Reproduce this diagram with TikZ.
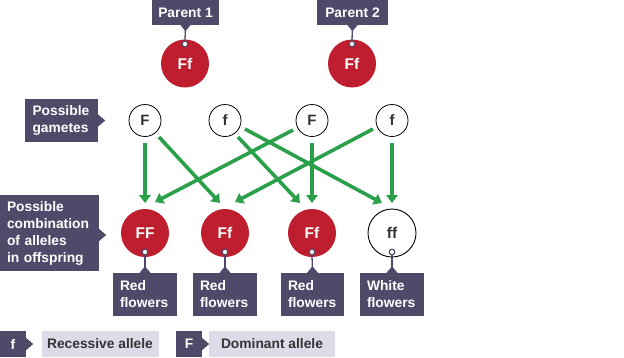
\documentclass[tikz,border=0pt]{standalone}
\usepackage{fontspec}
\setmainfont{Liberation Sans}
\usetikzlibrary{arrows.meta,calc}
\definecolor{slate}{HTML}{4E4B6A}
\definecolor{bred}{HTML}{BE1E2D}
\definecolor{bgreen}{HTML}{2BA04A}
\definecolor{lilac}{HTML}{DCDCE8}
\definecolor{ink}{HTML}{333333}
\tikzset{
  lbl/.style={fill=slate, text=white, font=\bfseries\fontsize{13.8}{17}\selectfont, inner sep=0pt, align=left},
  keyl/.style={fill=lilac, text=ink, font=\bfseries\fontsize{13.8}{17}\selectfont, inner sep=0pt, minimum height=26pt},
  redc/.style={circle, fill=bred, text=white, font=\bfseries\fontsize{15.5}{18}\selectfont, minimum size=48pt, inner sep=0pt},
  whitec/.style={circle, draw=black, line width=0.9pt, fill=white, text=ink, font=\bfseries\fontsize{15.5}{18}\selectfont, minimum size=48pt, inner sep=0pt},
  gam/.style={circle, draw=black, line width=0.8pt, fill=white, text=ink, font=\bfseries\fontsize{15}{18}\selectfont, minimum size=32pt, inner sep=0pt},
  pin/.style={circle, draw=slate, line width=1pt, fill=white, minimum size=5.5pt, inner sep=0pt},
  pinline/.style={draw=slate, line width=1.3pt},
  arr/.style={draw=bgreen, line width=3.6pt, -{Triangle[length=8pt,width=11.5pt]}}
}
\begin{document}
\begin{tikzpicture}[x=1pt,y=-1pt]
\useasboundingbox (0,0) rectangle (624,357);

% parents
\node[lbl, minimum width=67pt, minimum height=25pt] (lp1) at (185.5,12.5) {Parent 1};
\node[lbl, minimum width=71pt, minimum height=25pt] (lp2) at (352.5,12.5) {Parent 2};
\node[redc] (par1) at (185,63.5) {Ff};
\node[redc] (par2) at (352,63.5) {Ff};
\node[pin] (d1) at ($(par1)+(0,-19.5)$) {};
\node[pin] (d2) at ($(par2)+(0,-19.5)$) {};
\foreach \b/\d in {lp1/d1, lp2/d2}{
  \fill[slate] ($(\b.south)+(-5,0)$) -- ($(\b.south)+(0,6)$) -- ($(\b.south)+(5,0)$) -- cycle;
  \draw[pinline] (\b.south) -- (\d.north);
}
\node[pin] at (d1) {};
\node[pin] at (d2) {};

% gametes
\node[lbl, minimum width=73pt, minimum height=43pt, text width=58pt, inner xsep=7.5pt] (lg) at (61.5,120.5) {Possible\\gametes};
\fill[slate] ($(lg.east)+(0,-6)$) -- ($(lg.east)+(7,0)$) -- ($(lg.east)+(0,6)$) -- cycle;
\node[gam] (g1) at (145,120.5) {F};
\node[gam] (g2) at (225,120.5) {f};
\node[gam] (g3) at (312,120.5) {F};
\node[gam] (g4) at (392,120.5) {f};

% offspring
\node[lbl, minimum width=99pt, minimum height=76pt, text width=85pt, inner xsep=7pt] (lc) at (49.5,233) {Possible\\combination\\of alleles\\in offspring};
\fill[slate] ($(lc.east)+(0,-4)$) -- ($(lc.east)+(7,2)$) -- ($(lc.east)+(0,8)$) -- cycle;
\node[redc] (o1) at (145,233) {FF};
\node[redc] (o2) at (225,233) {Ff};
\node[redc] (o3) at (312,233) {Ff};
\node[whitec] (o4) at (392,233) {ff};

% arrows
\draw[arr] ($(g1)+(0,22.5)$) -- ($(o1)+(0,-30)$);
\draw[arr] ($(g1)+(14,16.5)$) -- ($(o2)+(-5,-30)$);
\draw[arr] ($(g2)+(13,16.5)$) -- ($(o3)+(-12,-30)$);
\draw[arr] ($(g2)+(20,8.5)$) -- ($(o4)+(-10,-30)$);
\draw[arr] ($(g3)+(-19,9.5)$) -- ($(o1)+(10,-31)$);
\draw[arr] ($(g3)+(0,22.5)$) -- ($(o3)+(0,-30)$);
\draw[arr] ($(g4)+(-19,8.5)$) -- ($(o2)+(10,-31)$);
\draw[arr] ($(g4)+(0,22.5)$) -- ($(o4)+(0,-30)$);

% flower labels
\node[lbl, minimum width=64pt, minimum height=43pt, text width=50pt, inner xsep=7pt] (f1) at (145,294.5) {Red\\flowers};
\node[lbl, minimum width=64pt, minimum height=43pt, text width=50pt, inner xsep=7pt] (f2) at (225,294.5) {Red\\flowers};
\node[lbl, minimum width=63pt, minimum height=43pt, text width=49pt, inner xsep=7pt] (f3) at (312.5,294.5) {Red\\flowers};
\node[lbl, minimum width=64pt, minimum height=43pt, text width=50pt, inner xsep=7pt] (f4) at (392,294.5) {White\\flowers};
\foreach \o/\f in {o1/f1, o2/f2, o3/f3, o4/f4}{
  \node[pin] (p\o) at ($(\o)+(0,19)$) {};
  \fill[slate] ($(\f.north)+(-5.5,0)$) -- ($(\f.north)+(0,-6.5)$) -- ($(\f.north)+(5.5,0)$) -- cycle;
  \draw[pinline] (\f.north) -- (p\o.south);
  \node[pin] at (p\o) {};
}

% legend
\node[lbl, minimum width=26pt, minimum height=26pt, align=center] (kf) at (13,344) {f};
\fill[slate] ($(kf.east)+(0,-6)$) -- ($(kf.east)+(7,0)$) -- ($(kf.east)+(0,6)$) -- cycle;
\node[keyl, minimum width=117pt] (kr) at (100,344) {Recessive allele};
\node[lbl, minimum width=26pt, minimum height=26pt, align=center] (kF) at (189,344) {F};
\fill[slate] ($(kF.east)+(0,-6)$) -- ($(kF.east)+(7,0)$) -- ($(kF.east)+(0,6)$) -- cycle;
\node[keyl, minimum width=126pt] (kd) at (272,344) {Dominant allele};
\end{tikzpicture}
\end{document}
